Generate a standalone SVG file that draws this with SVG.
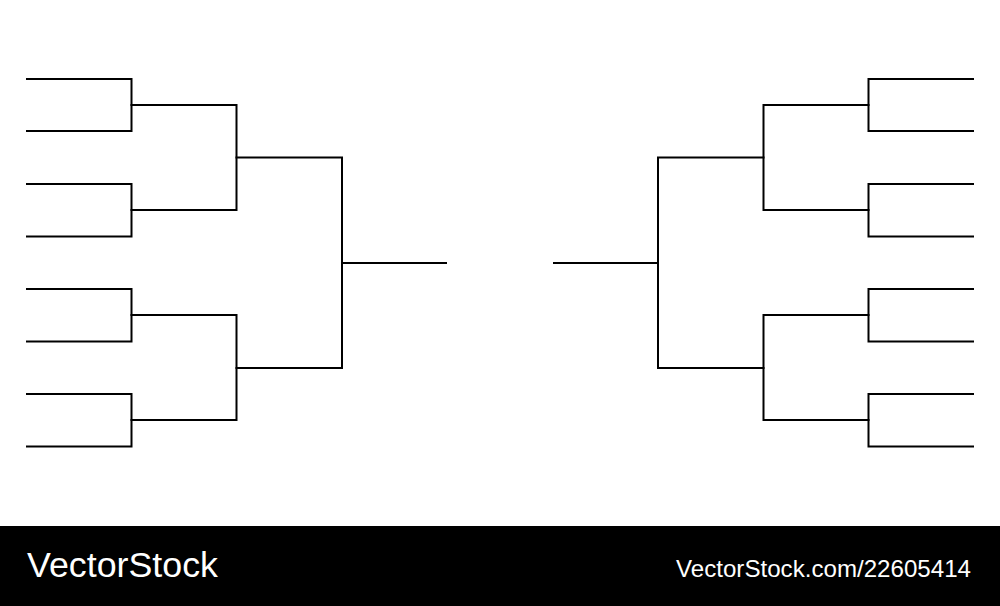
<svg xmlns="http://www.w3.org/2000/svg" width="1000" height="606" viewBox="0 0 1000 606">
<style>
.ln{fill:none;stroke:#000;stroke-width:2;stroke-linecap:square;stroke-linejoin:miter}
.wm{fill:#fff;font-family:"Liberation Sans",Arial,sans-serif}
</style>
<rect x="0" y="0" width="1000" height="606" fill="#fff"/>
<g id="connectors">
<g id="left-r1">
<path class="ln" d="M27 79H131.5V131H27"/>
<path class="ln" d="M27 184H131.5V236.5H27"/>
<path class="ln" d="M27 289H131.5V341.5H27"/>
<path class="ln" d="M27 394H131.5V446.5H27"/>
</g>
<g id="left-r2">
<path class="ln" d="M131.5 105H236.5V210H131.5"/>
<path class="ln" d="M131.5 315H236.5V420H131.5"/>
</g>
<g id="left-r3">
<path class="ln" d="M236.5 157.5H342V368H236.5"/>
<path class="ln" d="M342 263H446"/>
</g>
<g id="right-r1">
<path class="ln" d="M973 79H868.5V131H973"/>
<path class="ln" d="M973 184H868.5V236.5H973"/>
<path class="ln" d="M973 289H868.5V341.5H973"/>
<path class="ln" d="M973 394H868.5V446.5H973"/>
</g>
<g id="right-r2">
<path class="ln" d="M868.5 105H763.5V210H868.5"/>
<path class="ln" d="M868.5 315H763.5V420H868.5"/>
</g>
<g id="right-r3">
<path class="ln" d="M763.5 157.5H658V368H763.5"/>
<path class="ln" d="M658 263H554"/>
</g>
</g>
<g id="banner">
<rect x="0" y="526" width="1000" height="80" fill="#000"/>
<text class="wm" x="27" y="577" font-size="35" textLength="191" lengthAdjust="spacingAndGlyphs">VectorStock</text>
<text class="wm" x="676" y="577" font-size="24" textLength="295" lengthAdjust="spacingAndGlyphs">VectorStock.com/22605414</text>
</g>
</svg>
